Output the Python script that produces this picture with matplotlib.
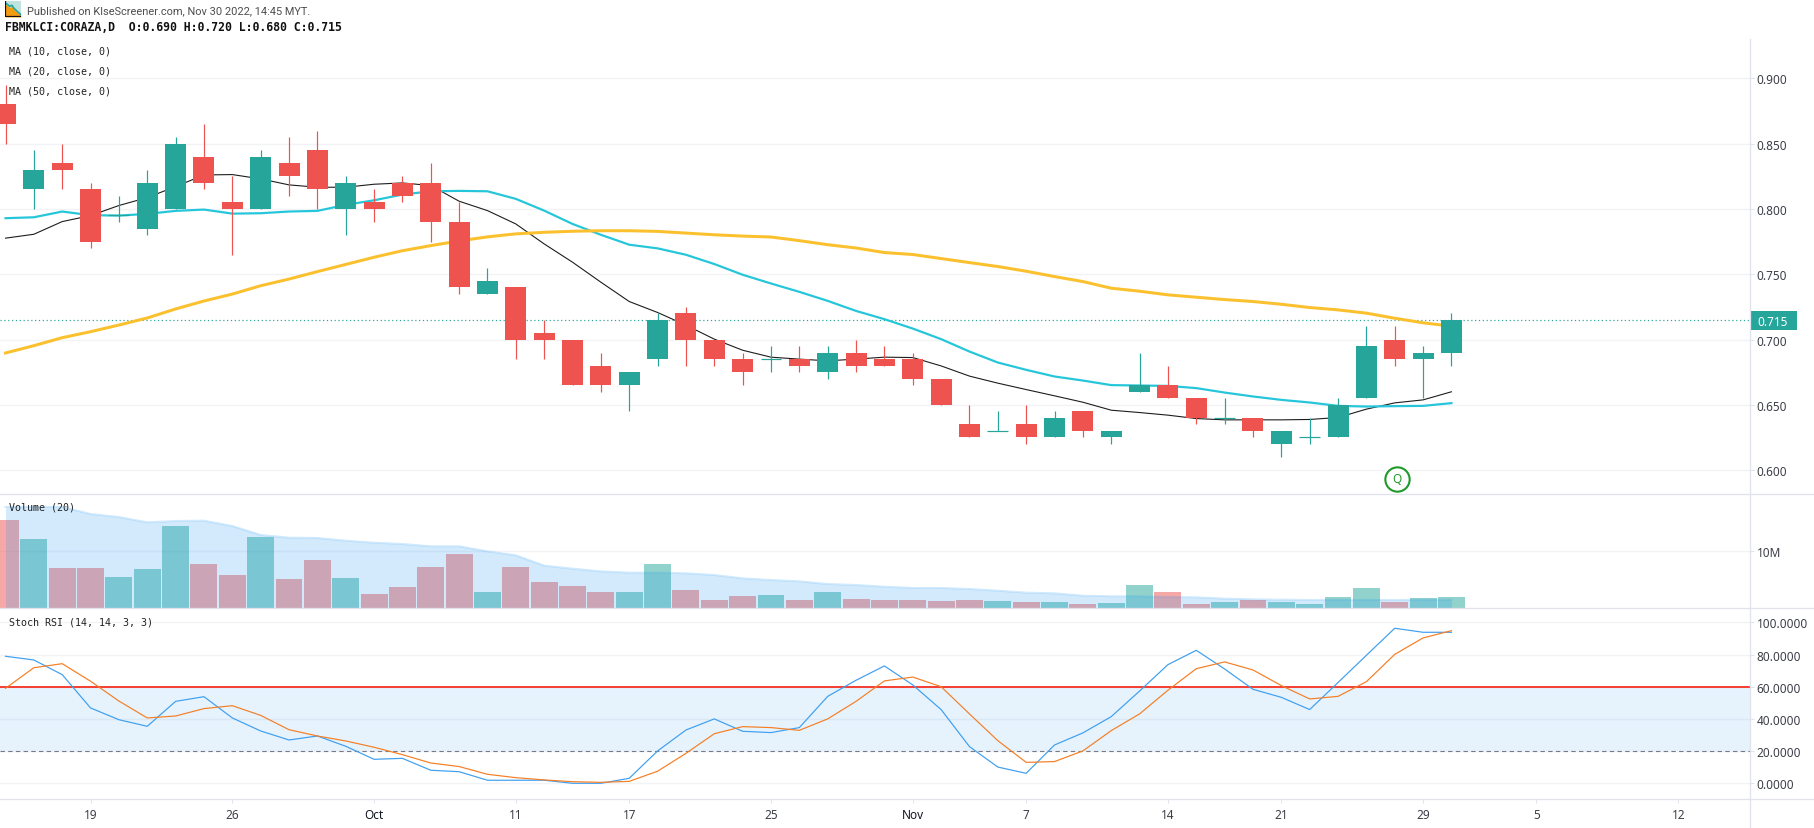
import matplotlib
matplotlib.use("Agg")
import matplotlib.pyplot as plt
from matplotlib.lines import Line2D
from matplotlib.patches import Rectangle
from matplotlib.transforms import blended_transform_factory

# Daily candles for FBMKLCI:CORAZA
opens = [.880,.815,.835,.815,.795,.785,.800,.840,.805,.800,.835,.845,.800,.805,.820,.820,.790,.735,.740,.705,
         .700,.680,.665,.685,.720,.700,.685,.685,.685,.675,.690,.685,.685,.670,.635,.630,.635,.625,.645,.625,
         .660,.665,.655,.640,.640,.620,.625,.625,.655,.700,.685,.690]
highs = [.895,.845,.850,.820,.810,.830,.855,.865,.825,.845,.855,.860,.825,.815,.825,.835,.805,.755,.740,.715,
         .700,.690,.675,.720,.725,.700,.690,.695,.695,.695,.700,.695,.690,.670,.650,.645,.650,.645,.645,.630,
         .690,.680,.655,.655,.640,.630,.640,.655,.710,.710,.695,.720]
lows = [.850,.800,.815,.770,.790,.780,.800,.815,.765,.800,.810,.800,.780,.790,.805,.775,.735,.735,.685,.685,
        .665,.660,.645,.680,.680,.680,.665,.675,.675,.670,.675,.680,.665,.650,.625,.630,.620,.625,.625,.620,
        .660,.655,.635,.635,.625,.610,.620,.625,.655,.680,.655,.680]
closes = [.865,.830,.830,.775,.795,.820,.850,.820,.800,.840,.825,.815,.820,.800,.810,.790,.740,.745,.700,.700,
          .665,.665,.675,.715,.700,.685,.675,.685,.680,.690,.680,.680,.670,.650,.625,.630,.625,.640,.630,.630,
          .665,.655,.640,.640,.630,.630,.625,.650,.695,.685,.690,.715]

ma10 = [.7776,.7806,.7903,.7949,.8026,.8087,.8171,.8260,.8263,.8230,.8184,.8166,.8166,.8189,.8199,.8179,.8059,.7987,.7885,.7732,
        .7592,.7439,.7291,.7207,.7110,.7003,.6918,.6865,.6850,.6837,.6850,.6865,.6862,.6798,.6720,.6666,.6617,.6569,.6520,.6459,
        .6441,.6421,.6395,.6385,.6385,.6385,.6388,.6403,.6467,.6515,.6538,.6600]
ma20 = [.7929,.7936,.7980,.7952,.7949,.7962,.7985,.7995,.7964,.7967,.7980,.7985,.8031,.8066,.8110,.8135,.8138,.8135,.8077,.7987,
        .7885,.7802,.7726,.7698,.7649,.7578,.7496,.7429,.7365,.7296,.7219,.7156,.7084,.7003,.6908,.6824,.6768,.6717,.6686,.6651,
        .6648,.6645,.6628,.6594,.6564,.6538,.6518,.6492,.6487,.6490,.6492,.6513]
ma50 = [.6897,.6953,.7014,.7060,.7111,.7165,.7234,.7295,.7348,.7412,.7463,.7520,.7575,.7630,.7680,.7719,.7755,.7786,.7809,.7821,
        .7829,.7833,.7833,.7828,.7815,.7802,.7792,.7785,.7757,.7726,.7701,.7666,.7651,.7620,.7589,.7559,.7523,.7482,.7444,.7393,
        .7370,.7342,.7324,.7306,.7291,.7270,.7245,.7227,.7202,.7163,.7128,.7102]

# Volume in millions of shares and its 20-day average
volume = [15.5,12.16,7.08,7.08,5.5,6.9,14.44,7.78,5.85,12.5,5.15,8.48,5.32,2.5,3.74,7.25,9.53,2.87,7.25,4.62,
          3.92,2.87,2.87,7.78,3.22,1.46,2.16,2.34,1.46,2.87,1.64,1.46,1.46,1.29,1.46,1.29,1.11,1.11,.76,.94,
          4.09,2.87,.76,1.11,1.46,1.11,.76,1.99,3.57,1.11,1.81,1.99]
volume_ma = [17.78,17.78,17.78,16.55,16.02,15.09,15.32,15.38,14.44,12.87,12.4,12.34,11.87,11.52,11.29,10.88,10.88,10.0,9.3,7.49,
             6.96,6.49,6.26,6.26,6.14,5.85,5.26,4.97,4.74,4.27,4.09,3.8,3.57,3.57,3.39,3.1,2.75,2.63,2.22,2.11,
             2.11,1.99,1.93,1.7,1.58,1.52,1.46,1.46,1.46,1.46,1.52,1.52]

# Stochastic RSI
stoch_k = [78.9,76.6,67.5,46.8,39.5,35.4,50.9,53.8,40.6,32.5,26.9,29.4,23.0,14.9,15.5,8.1,7.2,1.9,1.9,1.9,
           0.0,0.0,3.1,20.1,33.1,40.0,32.3,31.5,34.6,54.0,64.0,72.9,61.1,45.8,22.8,10.1,6.2,23.8,31.3,41.4,
           57.3,73.7,82.6,71.0,58.4,53.4,45.8,62.6,79.5,96.3,93.8,93.8]
stoch_d = [59.0,71.8,74.3,63.4,51.1,40.6,41.8,46.4,48.2,42.2,33.3,29.4,26.3,22.4,17.8,12.6,10.4,5.6,3.5,2.1,
           1.0,0.6,1.2,7.5,18.6,30.8,35.2,34.6,32.9,40.0,50.9,63.6,66.0,60.0,43.1,26.5,13.0,13.5,20.1,32.7,
           43.1,57.8,71.2,75.4,70.4,60.7,52.4,54.0,63.1,80.1,90.3,94.8]

# Axis labelling
date_positions = [3, 8, 13, 18, 22, 27, 32, 36, 41, 45, 50, 54, 59]
date_labels = ["19", "26", "Oct", "11", "17", "25", "Nov", "7", "14", "21", "29", "5", "12"]
price_ticks = [0.60, 0.65, 0.70, 0.75, 0.80, 0.85, 0.90]
volume_ticks = [10]
stoch_ticks = [0, 20, 40, 60, 80, 100]
logo_area = [2, 3, 5, 4, 7, 9, 11, 13]

UP = "#26a69a"
DOWN = "#ef5350"
GRID = "#f1f3f6"
BORDER = "#e0e3eb"
LABEL = "#3c3f47"
PX = 0.72  # one pixel in points at 100 dpi

W, H = 1815, 829
fig = plt.figure(figsize=(W / 100, H / 100), dpi=100, facecolor="white")
plt.rcParams["font.family"] = "Noto Sans"

DIVIDER = 1749.7
XLIM = (-0.194, 61.52)


def pane(top, bottom, ylim):
    ax = fig.add_axes([0, 1 - bottom / H, DIVIDER / W, (bottom - top) / H])
    ax.set_xlim(*XLIM)
    ax.set_ylim(*ylim)
    ax.yaxis.tick_right()
    ax.set_xticks([])
    for side in ax.spines.values():
        side.set_visible(False)
    ax.tick_params(axis="y", length=3, width=PX, color=BORDER, pad=2,
                   labelsize=8.5, labelcolor=LABEL)
    ax.grid(axis="y", color=GRID, lw=1.4 * PX)
    ax.set_axisbelow(True)
    return ax


def pane_title(ax, y_px, text):
    fig.text(9.5 / W, 1 - y_px / H, text, family="DejaVu Sans Mono", fontsize=7.2,
             color="#222222", va="center", ha="left")


ax_price = pane(40, 495.3, (0.5815, 0.9301))
ax_vol = pane(495.3, 609.3, (0, 20))
ax_rsi = pane(609.3, 800.3, (-9.94, 108.7))

# Price pane
n = len(closes)
xs = list(range(n))
ax_price.set_yticks(price_ticks, [f"{v:.3f}" for v in price_ticks])
ax_price.axhline(closes[-1], color=UP, lw=PX * 1.2, ls=(0, (1, 2.2)), zorder=1)
ax_price.plot(xs, ma10, color="#1c1c1c", lw=1.1 * PX, zorder=2)
ax_price.plot(xs, ma20, color="#26c6da", lw=2.2 * PX, zorder=2)
ax_price.plot(xs, ma50, color="#fbc02d", lw=3 * PX, zorder=2)

colours = [UP if c >= o else DOWN for o, c in zip(opens, closes)]
dojis = [c == o for o, c in zip(opens, closes)]
ax_price.vlines(xs, lows, highs, colors=colours, lw=1.2 * PX, zorder=3)
ax_price.bar(xs, [abs(c - o) for o, c in zip(opens, closes)],
             bottom=[min(o, c) for o, c in zip(opens, closes)],
             width=0.74, color=colours, linewidth=0, zorder=4)
for x, c, flat, col in zip(xs, closes, dojis, colours):
    if flat:
        ax_price.hlines(c, x - 0.37, x + 0.37, colors=col, lw=1.2 * PX, zorder=4)

# Earnings marker under the candles
ax_price.plot([49.07], [0.5934], "o", ms=17.5, mfc="white", mec="#1e9a2a", mew=1.5, zorder=5)
ax_price.text(49.07, 0.5934, "Q", color="#1e9a2a", fontsize=8.5, ha="center",
              va="center", zorder=6)

# Last-price tag on the axis
tag_tf = blended_transform_factory(ax_price.transAxes, ax_price.transData)
ax_price.add_patch(Rectangle((1.0, closes[-1] - 0.0075), 47 / DIVIDER, 0.0146, transform=tag_tf,
                             facecolor=UP, edgecolor="none", clip_on=False, zorder=7))
ax_price.text(1 + 8 / DIVIDER, closes[-1], f"{closes[-1]:.3f}", transform=tag_tf, color="white",
              fontsize=8.5, fontweight="bold", va="center_baseline", ha="left", zorder=8)

# Volume pane
vol_colours = [(0.149, 0.651, 0.604, 0.5) if c >= o else (0.937, 0.325, 0.314, 0.5)
               for o, c in zip(opens, closes)]
ax_vol.set_yticks(volume_ticks, [f"{v}M" for v in volume_ticks])
ax_vol.bar(xs, volume, width=0.95, color=vol_colours, linewidth=0, zorder=2)
ax_vol.fill_between(xs, volume_ma, 0, color="#2196f3", alpha=0.2, linewidth=0, zorder=3)
ax_vol.plot(xs, volume_ma, color="#2196f3", alpha=0.2, lw=2 * PX, zorder=3)

# Stochastic RSI pane
ax_rsi.set_yticks(stoch_ticks, [f"{v:.4f}" for v in stoch_ticks])
ax_rsi.axhspan(stoch_ticks[1], stoch_ticks[3], color="#2196f3", alpha=0.11, linewidth=0, zorder=1)
ax_rsi.axhline(stoch_ticks[3], color="#f44336", lw=2 * PX, zorder=2)
ax_rsi.axhline(stoch_ticks[1], color="#787b86", lw=PX * 1.1, ls=(0, (4, 3)), zorder=2)
ax_rsi.plot(xs, stoch_k, color="#3f9ff0", lw=1.2 * PX, zorder=3)
ax_rsi.plot(xs, stoch_d, color="#f57f26", lw=1.2 * PX, zorder=3)
ax_rsi.set_xticks(date_positions, date_labels)
ax_rsi.tick_params(axis="x", length=3, width=PX, color=BORDER, pad=3.5, labelsize=8.5,
                   labelcolor=LABEL)
for tick in ax_rsi.get_xticklabels():
    if tick.get_text() in ("Oct", "Nov"):
        tick.set_color("#131722")

# Pane borders run to the edge of the figure
for y_px in (495.3, 609.3, 800.3):
    fig.add_artist(Line2D([0, 1], [1 - y_px / H] * 2, color=BORDER, lw=1.3 * PX))
fig.add_artist(Line2D([DIVIDER / W] * 2, [0, 1 - 40 / H], color=BORDER, lw=1.3 * PX))

# Header
fig.text(27 / W, 1 - 11 / H, "Published on KlseScreener.com, Nov 30 2022, 14:45 MYT.",
         family="Roboto", fontsize=7.9, color="#4d4d4d", va="center", ha="left")
fig.text(5 / W, 1 - 27.3 / H, "FBMKLCI:CORAZA,D  O:0.690 H:0.720 L:0.680 C:0.715",
         family="DejaVu Sans Mono", fontweight="bold", fontsize=8.3, color="#111111",
         va="center", ha="left")
pane_title(ax_price, 52, "MA (10, close, 0)")
pane_title(ax_price, 72, "MA (20, close, 0)")
pane_title(ax_price, 92, "MA (50, close, 0)")
pane_title(ax_vol, 508, "Volume (20)")
pane_title(ax_rsi, 622.3, "Stoch RSI (14, 14, 3, 3)")

# Site logo
ax_logo = fig.add_axes([5 / W, 1 - 18 / H, 16 / W, 16 / H])
ax_logo.set_xlim(0, 7)
ax_logo.set_ylim(0, 15)
ax_logo.axis("off")
ax_logo.fill_between(range(8), [15] * 8, color="#bfe3df", linewidth=0)
ax_logo.fill_between(range(8), [14 - v for v in logo_area], color="#f39c12", linewidth=0)
ax_logo.plot(range(8), [15 - v for v in logo_area], color=UP, lw=1.2)
ax_logo.plot([0, 0, 7], [15, 0, 0], color="#111111", lw=1.6)

fig.savefig("out.png", dpi=100, facecolor="white")
